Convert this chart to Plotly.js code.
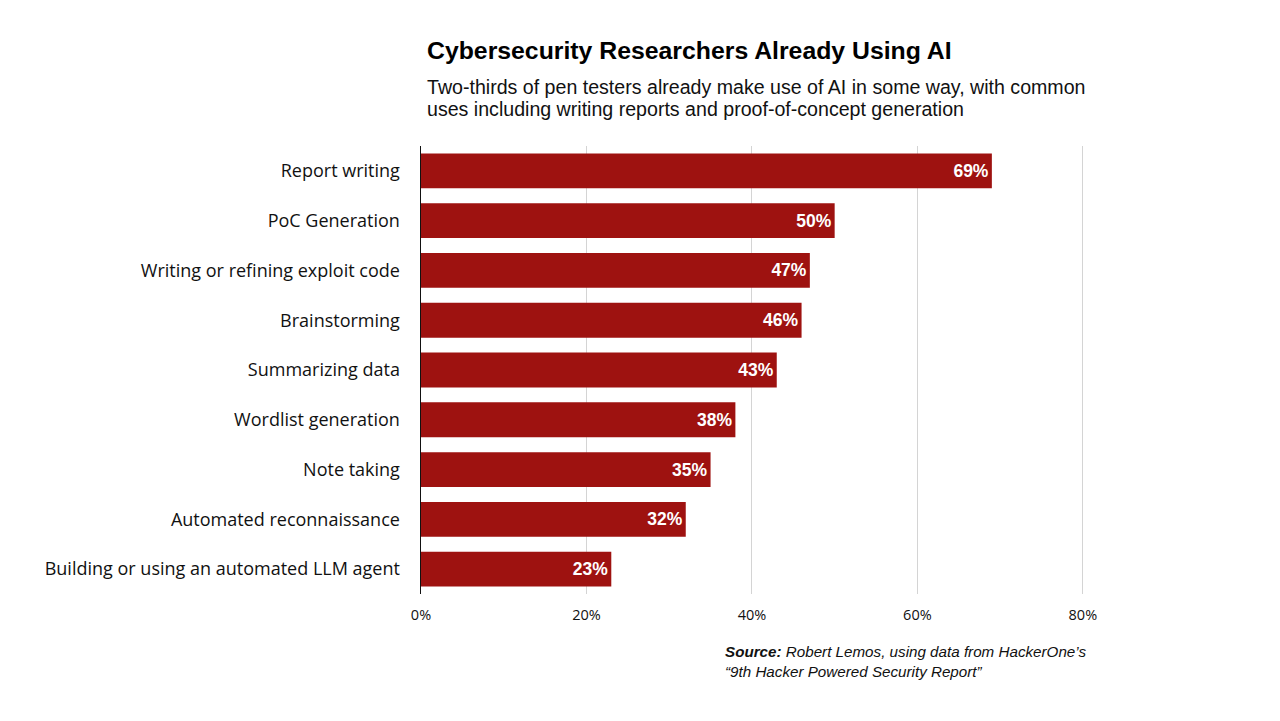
<!DOCTYPE html>
<html>
<head>
<meta charset="utf-8">
<script src="https://cdn.plot.ly/plotly-3.0.1.min.js"></script>
<style>
  html, body { margin: 0; padding: 0; background: #fff; }
  #chart { width: 1280px; height: 721px; }
</style>
</head>
<body>
<div id="chart"></div>
<script>
// AI use cases among pen testers (share of respondents, %)
const categories = [
  "Report writing",
  "PoC Generation",
  "Writing or refining exploit code",
  "Brainstorming",
  "Summarizing data",
  "Wordlist generation",
  "Note taking",
  "Automated reconnaissance",
  "Building or using an automated LLM agent"
];
const shares = [69, 50, 47, 46, 43, 38, 35, 32, 23];
const tickValues = [0, 20, 40, 60, 80];
const tickLabels = ["0%", "20%", "40%", "60%", "80%"];

const W = 1280, H = 721;
const M = { l: 421, r: 193, t: 146, b: 127 };
const plotW = W - M.l - M.r, plotH = H - M.t - M.b;
// convert page pixels into paper coordinates for the text blocks
const px = x => (x - M.l) / plotW;
const py = y => (H - M.b - y) / plotH;

const helv = '"Liberation Sans", Arial, Helvetica, sans-serif';

const trace = {
  type: "bar",
  orientation: "h",
  y: categories,
  x: shares,
  marker: { color: "#9e1210", line: { width: 0 } },
  text: shares.map(v => v + "%"),
  textposition: "inside",
  insidetextanchor: "end",
  textangle: 0,
  cliponaxis: false,
  textfont: { family: helv, size: 17.5, color: "#ffffff", weight: "bold" },
  hoverinfo: "skip"
};

// one annotation per text line so the line spacing can be set exactly
function textLine(text, x, y, size, color) {
  return {
    xref: "paper", yref: "paper", x: px(x), y: py(y),
    xanchor: "left", yanchor: "middle", showarrow: false, align: "left",
    text: text, font: { family: helv, size: size, color: color }
  };
}

const layout = {
  width: W, height: H,
  margin: M,
  paper_bgcolor: "#ffffff",
  plot_bgcolor: "#ffffff",
  showlegend: false,
  bargap: 0.3,
  xaxis: {
    range: [0, 80.5],
    tickvals: tickValues,
    ticktext: tickLabels,
    showgrid: true,
    gridcolor: "#d4d4d4",
    gridwidth: 1,
    zeroline: false,
    showline: false,
    ticks: "",
    tickfont: { family: '"Open Sans", sans-serif', size: 14.5, color: "#111" },
    ticklabelstandoff: 10
  },
  yaxis: {
    autorange: "reversed",
    showgrid: false,
    zeroline: false,
    showline: true,
    linecolor: "#111",
    linewidth: 1.5,
    ticks: "",
    ticklabelstandoff: 16,
    tickfont: { family: '"Open Sans", sans-serif', size: 18, color: "#111" }
  },
  annotations: [
    textLine("<b>Cybersecurity Researchers Already Using AI</b>", 425, 50, 24.8, "#000"),
    textLine("Two-thirds of pen testers already make use of AI in some way, with common", 425, 87, 19.6, "#111"),
    textLine("uses including writing reports and proof-of-concept generation", 425, 109, 19.6, "#111"),
    textLine("<b><i>Source:</i></b><i> Robert Lemos, using data from HackerOne’s</i>", 723, 651, 15.2, "#111"),
    textLine("<i>“9th Hacker Powered Security Report”</i>", 723, 671, 15.2, "#111")
  ]
};

Plotly.newPlot("chart", [trace], layout, { displayModeBar: false, staticPlot: true });
</script>
</body>
</html>
